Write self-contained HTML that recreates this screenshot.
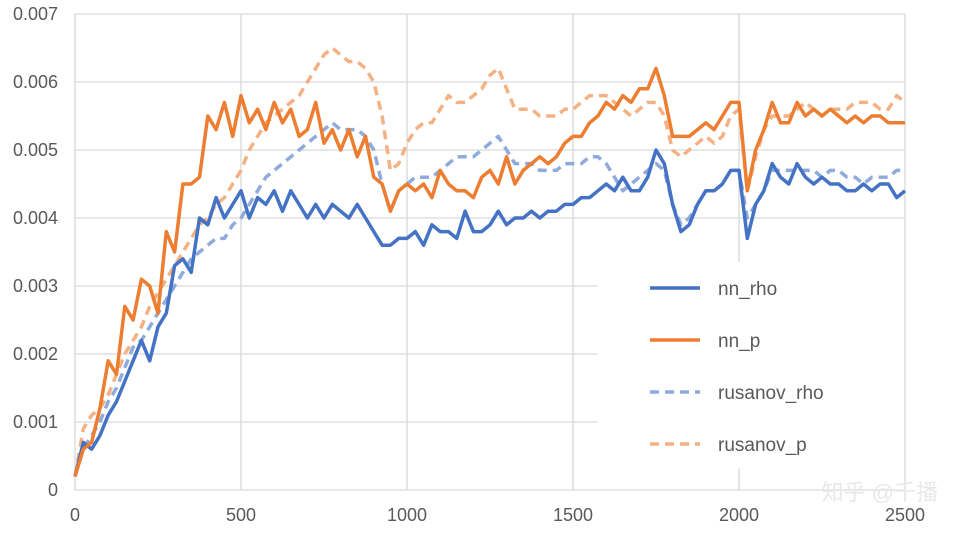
<!DOCTYPE html>
<html><head><meta charset="utf-8"><style>
body{margin:0;background:#fff;}
svg text{font-family:"Liberation Sans","Noto Sans CJK SC",sans-serif;fill:#595959;}
</style></head><body>
<svg width="955" height="532" viewBox="0 0 955 532" xmlns="http://www.w3.org/2000/svg">
<g id="grid"></g>
<g id="series"></g>
<g id="axes"></g>
<g id="legend"></g>
<text x="938" y="500" text-anchor="end" font-size="22" style="fill:#e8e8e8">知乎 @千播</text>
</svg>
<script>
const xStart = 0, xStep = 25;
const xTicks = [0, 500, 1000, 1500, 2000, 2500];
const yTicks = [0, 0.001, 0.002, 0.003, 0.004, 0.005, 0.006, 0.007];
const yTickLabels = ["0", "0.001", "0.002", "0.003", "0.004", "0.005", "0.006", "0.007"];
const seriesNames = ["nn_rho", "nn_p", "rusanov_rho", "rusanov_p"];
const nnRho = [0.0002,0.0007,0.0006,0.0008,0.0011,0.0013,0.0016,0.0019,0.0022,0.0019,0.0024,0.0026,0.0033,0.0034,0.0032,0.0040,0.0039,0.0043,0.0040,0.0042,0.0044,0.0040,0.0043,0.0042,0.0044,0.0041,0.0044,0.0042,0.0040,0.0042,0.0040,0.0042,0.0041,0.0040,0.0042,0.0040,0.0038,0.0036,0.0036,0.0037,0.0037,0.0038,0.0036,0.0039,0.0038,0.0038,0.0037,0.0041,0.0038,0.0038,0.0039,0.0041,0.0039,0.0040,0.0040,0.0041,0.0040,0.0041,0.0041,0.0042,0.0042,0.0043,0.0043,0.0044,0.0045,0.0044,0.0046,0.0044,0.0044,0.0046,0.0050,0.0048,0.0042,0.0038,0.0039,0.0042,0.0044,0.0044,0.0045,0.0047,0.0047,0.0037,0.0042,0.0044,0.0048,0.0046,0.0045,0.0048,0.0046,0.0045,0.0046,0.0045,0.0045,0.0044,0.0044,0.0045,0.0044,0.0045,0.0045,0.0043,0.0044];
const nnP = [0.0002,0.0006,0.0007,0.0012,0.0019,0.0017,0.0027,0.0025,0.0031,0.0030,0.0026,0.0038,0.0035,0.0045,0.0045,0.0046,0.0055,0.0053,0.0057,0.0052,0.0058,0.0054,0.0056,0.0053,0.0057,0.0054,0.0056,0.0052,0.0053,0.0057,0.0051,0.0053,0.0050,0.0053,0.0049,0.0052,0.0046,0.0045,0.0041,0.0044,0.0045,0.0044,0.0045,0.0043,0.0047,0.0045,0.0044,0.0044,0.0043,0.0046,0.0047,0.0045,0.0049,0.0045,0.0047,0.0048,0.0049,0.0048,0.0049,0.0051,0.0052,0.0052,0.0054,0.0055,0.0057,0.0056,0.0058,0.0057,0.0059,0.0059,0.0062,0.0058,0.0052,0.0052,0.0052,0.0053,0.0054,0.0053,0.0055,0.0057,0.0057,0.0044,0.0050,0.0053,0.0057,0.0054,0.0054,0.0057,0.0055,0.0056,0.0055,0.0056,0.0055,0.0054,0.0055,0.0054,0.0055,0.0055,0.0054,0.0054,0.0054];
const rusRho = [0.0002,0.0006,0.0008,0.0010,0.0013,0.0015,0.0018,0.0021,0.0022,0.0024,0.0026,0.0028,0.0030,0.0032,0.0034,0.0035,0.0036,0.0037,0.0037,0.0039,0.0040,0.0042,0.0044,0.0046,0.0047,0.0048,0.0049,0.0050,0.0051,0.0052,0.0053,0.0054,0.0053,0.0053,0.0053,0.0052,0.0050,0.0045,0.0041,0.0044,0.0045,0.0046,0.0046,0.0046,0.0047,0.0048,0.0049,0.0049,0.0049,0.0050,0.0051,0.0052,0.0050,0.0048,0.0048,0.0048,0.0047,0.0047,0.0047,0.0048,0.0048,0.0048,0.0049,0.0049,0.0048,0.0046,0.0044,0.0045,0.0046,0.0047,0.0048,0.0047,0.0042,0.0039,0.0040,0.0042,0.0044,0.0044,0.0045,0.0047,0.0047,0.0040,0.0042,0.0044,0.0047,0.0047,0.0047,0.0047,0.0047,0.0047,0.0046,0.0047,0.0047,0.0046,0.0046,0.0045,0.0046,0.0046,0.0046,0.0047,0.0047];
const rusP = [0.0002,0.0009,0.0011,0.0012,0.0014,0.0017,0.0020,0.0022,0.0024,0.0027,0.0029,0.0031,0.0033,0.0035,0.0037,0.0039,0.0040,0.0042,0.0043,0.0045,0.0047,0.0050,0.0052,0.0054,0.0055,0.0056,0.0057,0.0058,0.0060,0.0062,0.0064,0.0065,0.0064,0.0063,0.0063,0.0062,0.0060,0.0055,0.0047,0.0048,0.0051,0.0053,0.0054,0.0054,0.0056,0.0058,0.0057,0.0057,0.0058,0.0059,0.0061,0.0062,0.0059,0.0056,0.0056,0.0056,0.0055,0.0055,0.0055,0.0056,0.0056,0.0057,0.0058,0.0058,0.0058,0.0057,0.0056,0.0055,0.0056,0.0057,0.0057,0.0055,0.0050,0.0049,0.0050,0.0051,0.0052,0.0051,0.0052,0.0055,0.0056,0.0044,0.0049,0.0053,0.0055,0.0055,0.0055,0.0056,0.0057,0.0056,0.0055,0.0056,0.0056,0.0056,0.0057,0.0057,0.0057,0.0056,0.0056,0.0058,0.0057];

const NS = "http://www.w3.org/2000/svg";
const X0 = 75, X1 = 905, Y0 = 490, Y1 = 14;
const xScale = v => X0 + (v - 0) / 2500 * (X1 - X0);
const yScale = v => Y0 - v / 0.007 * (Y0 - Y1);
function mk(tag, attrs, parent) {
  const el = document.createElementNS(NS, tag);
  for (const k in attrs) el.setAttribute(k, attrs[k]);
  parent.appendChild(el);
  return el;
}
const grid = document.getElementById('grid');
const axes = document.getElementById('axes');
yTicks.forEach((t, i) => {
  const l = mk('line', {x1: X0, x2: X1, y1: yScale(t), y2: yScale(t), stroke: '#d9d9d9', 'stroke-width': 1.3}, grid);
  
  
  const tx = mk('text', {x: 58, y: yScale(t) + 6, 'text-anchor': 'end', 'font-size': 18}, axes);
  tx.textContent = yTickLabels[i];
  
  
});
xTicks.forEach(t => {
  const l = mk('line', {x1: xScale(t), x2: xScale(t), y1: Y1, y2: Y0, stroke: '#d9d9d9', 'stroke-width': 1.3}, grid);
  
  
  const tx = mk('text', {x: xScale(t), y: 521, 'text-anchor': 'middle', 'font-size': 18}, axes);
  tx.textContent = String(t);
  
  
});
const styles = [
  {data: nnRho, color: '#4472C4', dash: null},
  {data: nnP, color: '#ED7D31', dash: null},
  {data: rusRho, color: '#8FAADC', dash: '9 6'},
  {data: rusP, color: '#F4B183', dash: '9 6'}
];
const series = document.getElementById('series');
const order = [3, 2, 0, 1];
order.forEach(si => {
  const s = styles[si];
  const d = s.data.map((v, i) => (i ? 'L' : 'M') + xScale(xStart + i * xStep).toFixed(1) + ',' + yScale(v).toFixed(1)).join(' ');
  const p = mk('path', {d: d, fill: 'none', stroke: s.color, 'stroke-width': 3.5, 'stroke-linejoin': 'round'}, series);
  if (s.dash) p.setAttribute('stroke-dasharray', s.dash);
  
  
});
const legend = document.getElementById('legend');
const bg = mk('rect', {x: 598, y: 262, width: 306, height: 206, fill: '#fff'}, legend);


seriesNames.forEach((n, i) => {
  const y = 288 + i * 52;
  const g = mk('g', {}, legend);
  
  
  const l = mk('line', {x1: 650, x2: 700, y1: y, y2: y, stroke: styles[i].color, 'stroke-width': 3.5}, g);
  if (styles[i].dash) l.setAttribute('stroke-dasharray', styles[i].dash);
  
  
  const t = mk('text', {x: 718, y: y + 7, 'font-size': 19}, g);
  t.textContent = n;
  
  
});
</script>
</body></html>
